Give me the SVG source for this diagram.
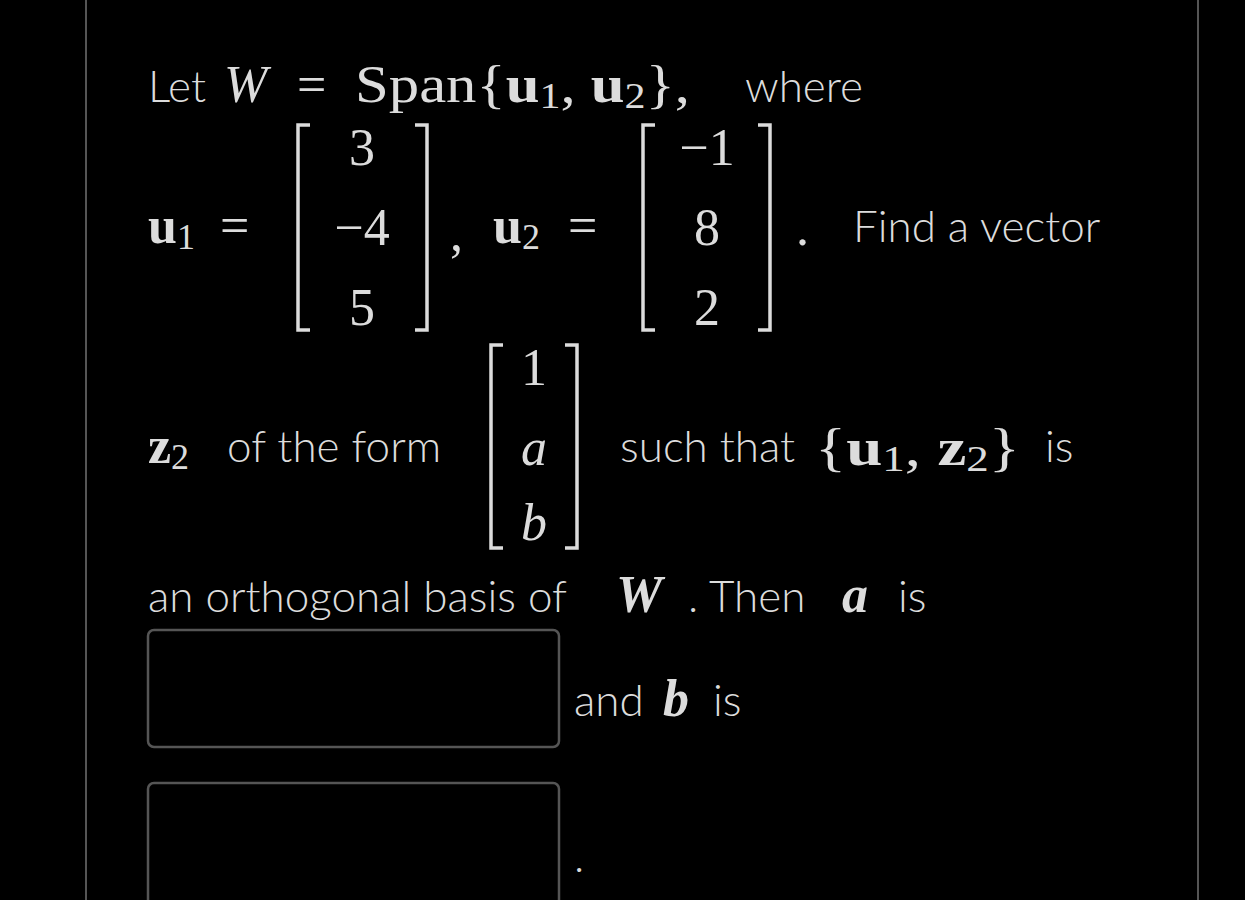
<svg xmlns="http://www.w3.org/2000/svg" width="1245" height="900" viewBox="0 0 1245 900">
<style>
.p{font-family:Lato,"Liberation Sans",sans-serif;font-size:44px;font-weight:300;fill:#dcdcdc}
.m{font-family:"Liberation Serif",serif;font-size:52px;fill:#dcdcdc}
.i{font-style:italic}
.b{font-weight:bold}
.s{font-size:36px;font-weight:normal}
.br{fill:none;stroke:#dcdcdc;stroke-width:3.5}
.box{fill:#000;stroke:#555;stroke-width:2.5}
</style>
<rect width="1245" height="900" fill="#000"/>
<line x1="86" y1="0" x2="86" y2="900" stroke="#555" stroke-width="2"/>
<line x1="1198" y1="0" x2="1198" y2="900" stroke="#555" stroke-width="2"/>

<text class="p" x="148" y="102">Let</text>
<text class="m i" x="224" y="102">W</text>
<text class="m" x="297" y="102">=</text>
<text class="m" x="355" y="102" textLength="335" lengthAdjust="spacingAndGlyphs">Span{<tspan class="b">u</tspan><tspan class="s" dy="6">1</tspan><tspan dy="-6">, </tspan><tspan class="b">u</tspan><tspan class="s" dy="6">2</tspan><tspan dy="-6">},</tspan></text>
<text class="p" x="745" y="102">where</text>

<text class="m b" x="148" y="243">u<tspan class="s" dy="6">1</tspan></text>
<text class="m" x="220" y="243">=</text>
<path class="br" d="M310 125H298V330H310M415 125H427V330H415"/>
<text class="m" x="362" y="165" text-anchor="middle">3</text>
<text class="m" x="362" y="245" text-anchor="middle">−4</text>
<text class="m" x="362" y="325" text-anchor="middle">5</text>
<text class="m" x="450" y="250">,</text>
<text class="m b" x="493" y="243">u<tspan class="s" dy="6">2</tspan></text>
<text class="m" x="568" y="243">=</text>
<path class="br" d="M655 125H643V330H655M758 125H770V330H758"/>
<text class="m" x="707" y="165" text-anchor="middle">−1</text>
<text class="m" x="707" y="245" text-anchor="middle">8</text>
<text class="m" x="707" y="325" text-anchor="middle">2</text>
<text class="m" x="796" y="245">.</text>
<text class="p" x="853" y="242">Find a vector</text>

<text class="m b" x="148" y="463">z<tspan class="s" dy="6">2</tspan></text>
<text class="p" x="227" y="462">of the form</text>
<path class="br" d="M503 345H491V548H503M565 345H577V548H565"/>
<text class="m" x="534" y="385" text-anchor="middle">1</text>
<text class="m i" x="534" y="465" text-anchor="middle">a</text>
<text class="m i" x="534" y="540" text-anchor="middle">b</text>
<text class="p" x="620" y="462">such that</text>
<text class="m" x="815" y="465" textLength="205" lengthAdjust="spacingAndGlyphs">{<tspan class="b">u</tspan><tspan class="s" dy="6">1</tspan><tspan dy="-6">, </tspan><tspan class="b">z</tspan><tspan class="s" dy="6">2</tspan><tspan dy="-6">}</tspan></text>
<text class="p" x="1045" y="462">is</text>

<text class="p" x="148" y="612">an orthogonal basis of</text>
<text class="m i b" x="616" y="612">W</text>
<text class="p" x="688" y="612">. Then</text>
<text class="m i b" x="842" y="612">a</text>
<text class="p" x="898" y="612">is</text>

<rect class="box" x="148" y="630" width="411" height="117" rx="6"/>
<text class="p" x="574" y="716">and</text>
<text class="m i b" x="663" y="716">b</text>
<text class="p" x="713" y="716">is</text>

<rect class="box" x="148" y="783" width="411" height="130" rx="6"/>
<text class="p" x="574" y="872">.</text>
</svg>
